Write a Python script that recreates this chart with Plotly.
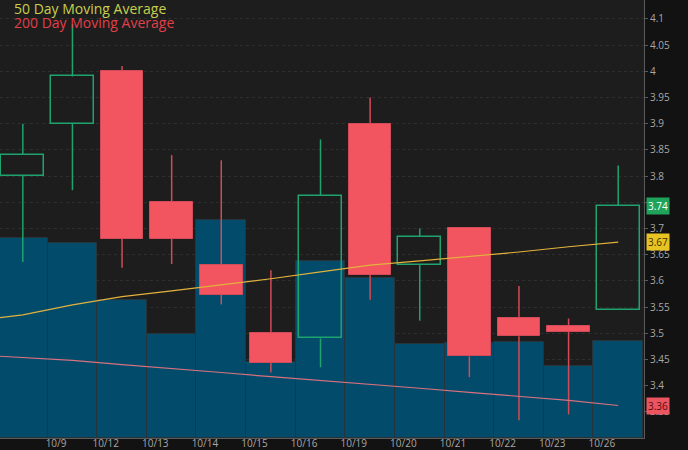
import plotly.graph_objects as go

# ---- data ----
dates = ["10/8", "10/9", "10/12", "10/13", "10/14", "10/15", "10/16",
         "10/19", "10/20", "10/21", "10/22", "10/23", "10/26"]
opens = [3.80, 3.90, 4.00, 3.75, 3.63, 3.50, 3.49, 3.90, 3.63, 3.70, 3.53, 3.514, 3.545]
highs = [3.90, 4.09, 4.01, 3.84, 3.83, 3.62, 3.87, 3.95, 3.70, 3.70, 3.59, 3.528, 3.82]
lows = [3.636, 3.773, 3.625, 3.632, 3.555, 3.425, 3.435, 3.564, 3.524, 3.416, 3.334, 3.345, 3.545]
closes = [3.84, 3.99, 3.68, 3.68, 3.573, 3.444, 3.762, 3.611, 3.684, 3.456, 3.494, 3.503, 3.743]
volumes = [1000000, 975000, 690000, 520000, 1090000, 380000, 885000,
           800000, 470000, 475000, 480000, 360000, 485000]
# moving averages, first value belongs to the session before 10/8
ma50 = [3.524, 3.535, 3.554, 3.570, 3.581, 3.592, 3.604, 3.617, 3.630,
        3.638, 3.646, 3.655, 3.665, 3.674]
ma200 = [3.459, 3.454, 3.448, 3.440, 3.433, 3.425, 3.417, 3.410, 3.402,
         3.395, 3.387, 3.379, 3.372, 3.362]
ytick_vals = [3.35, 3.4, 3.45, 3.5, 3.55, 3.6, 3.65, 3.7, 3.75, 3.8, 3.85,
              3.9, 3.95, 4.0, 4.05, 4.1]
ytick_text = ["3.35", "3.4", "3.45", "3.5", "3.55", "3.6", "3.65", "3.7", "3.75",
              "3.8", "3.85", "3.9", "3.95", "4", "4.05", "4.1"]

GREEN = "#1fa36e"
RED_FILL = "#f2555f"
RED_LINE = "#d24b58"
VOL = "#024b6b"
BG = "#1d1d1d"
PAPER = "#121212"

n = len(dates)
xs = list(range(n))
up = [c >= o for o, c in zip(opens, closes)]

fig = go.Figure()

# volume (main y, hidden)
fig.add_trace(go.Bar(x=xs, y=volumes, width=1.0, marker=dict(color=VOL, line=dict(color="#26343c", width=1)),
                     yaxis="y", hoverinfo="skip", showlegend=False))

# candle bodies
gx = [i for i in xs if up[i]]
rx = [i for i in xs if not up[i]]
fig.add_trace(go.Bar(x=gx, base=[opens[i] for i in gx], y=[closes[i] - opens[i] for i in gx],
                     width=0.86, marker=dict(color="rgba(0,0,0,0)", line=dict(color=GREEN, width=1.5)),
                     yaxis="y2", showlegend=False))
fig.add_trace(go.Bar(x=rx, base=[closes[i] for i in rx], y=[opens[i] - closes[i] for i in rx],
                     width=0.86, marker=dict(color=RED_FILL, line=dict(color=RED_LINE, width=1)),
                     yaxis="y2", showlegend=False))

# wicks
def wicks(idx):
    wx, wy = [], []
    for i in idx:
        top = max(opens[i], closes[i])
        bot = min(opens[i], closes[i])
        wx += [i, i, None, i, i, None]
        wy += [highs[i], top, None, bot, lows[i], None]
    return wx, wy

wx, wy = wicks(gx)
fig.add_trace(go.Scatter(x=wx, y=wy, mode="lines", line=dict(color=GREEN, width=1.5),
                         yaxis="y2", showlegend=False, hoverinfo="skip"))
wx, wy = wicks(rx)
fig.add_trace(go.Scatter(x=wx, y=wy, mode="lines", line=dict(color=RED_LINE, width=1.5),
                         yaxis="y2", showlegend=False, hoverinfo="skip"))

# moving averages
ma_x = list(range(-1, n))
fig.add_trace(go.Scatter(x=ma_x, y=ma50, mode="lines", line=dict(color="#e3b23c", width=1.2),
                         yaxis="y2", showlegend=False))
fig.add_trace(go.Scatter(x=ma_x, y=ma200, mode="lines", line=dict(color="#d9717f", width=1.2),
                         yaxis="y2", showlegend=False))

annotations = [
    dict(xref="paper", yref="paper", x=0, y=1, xanchor="left", yanchor="top", xshift=12, yshift=3,
         text="50 Day Moving Average", showarrow=False,
         font=dict(family="Open Sans", size=14, color="#c7cf4c")),
    dict(xref="paper", yref="paper", x=0, y=1, xanchor="left", yanchor="top", xshift=12, yshift=-11,
         text="200 Day Moving Average", showarrow=False,
         font=dict(family="Open Sans", size=14, color="#e23f48")),
]
for val, bg, fg in [(closes[-1], "#1fa35a", "#ffffff"), (ma50[-1], "#e8c423", "#3a3000"),
                    (ma200[-1], "#ea5560", "#5a0a10")]:
    annotations.append(dict(xref="paper", yref="y2", x=1, y=val, xanchor="left", yanchor="middle",
                            xshift=2, text=f"{val:.2f}", showarrow=False, bgcolor=bg,
                            borderpad=1, font=dict(family="Open Sans", size=10, color=fg)))

fig.update_layout(
    width=688, height=450,
    margin=dict(l=0, r=44, t=0, b=12),
    paper_bgcolor=PAPER, plot_bgcolor=BG,
    barmode="overlay", bargap=0,
    showlegend=False,
    annotations=annotations,
    xaxis=dict(range=[-0.46, 12.52], tickvals=[i - 0.33 for i in xs[1:]], ticktext=dates[1:],
               tickfont=dict(family="Open Sans", size=10, color="#a8a8a8"),
               showgrid=False, zeroline=False, showline=True, linecolor="#5a5a5a",
               ticks="", ticklen=0, ticklabelstandoff=-4, automargin=False),
    yaxis=dict(range=[0, 2190000], visible=False, showgrid=False, fixedrange=True),
    yaxis2=dict(overlaying="y", side="right", range=[3.3, 4.136],
                tickvals=ytick_vals, ticktext=ytick_text,
                tickfont=dict(family="Open Sans", size=10, color="#a8a8a8"),
                showgrid=True, gridcolor="#2e2e2e", griddash="dot", gridwidth=1,
                zeroline=False, showline=True, linecolor="#5a5a5a",
                ticks="outside", ticklen=3, tickcolor="#5a5a5a", automargin=False),
)

fig.write_html("out.html")
